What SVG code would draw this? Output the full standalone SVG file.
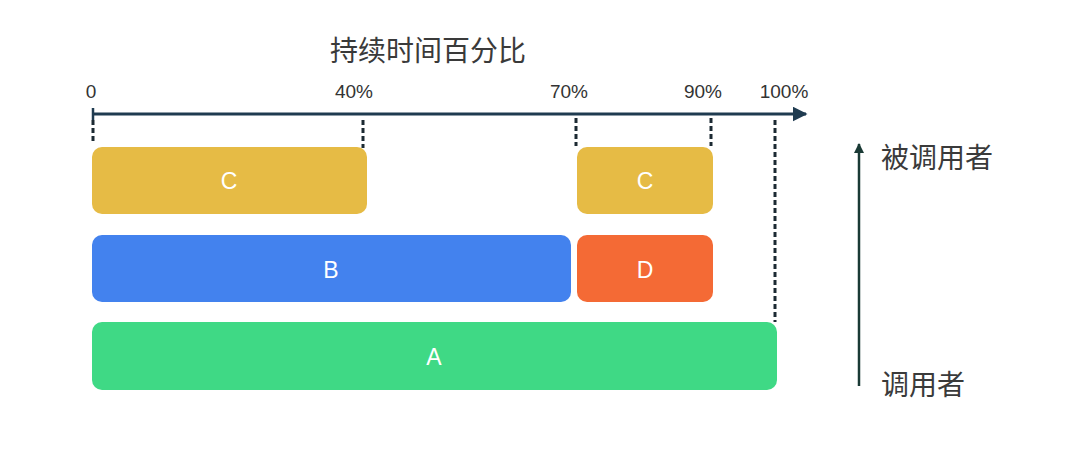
<svg xmlns="http://www.w3.org/2000/svg" width="1080" height="457" viewBox="0 0 1080 457">
<defs>
<style>
.lbl{font-family:"Liberation Sans","Noto Sans",sans-serif;font-size:23px;fill:#ffffff;text-anchor:middle}
.tick{font-family:"Liberation Sans","Noto Sans",sans-serif;font-size:19px;fill:#333333;text-anchor:middle}
.cjk{font-family:"Noto Sans CJK SC","Noto Sans",sans-serif;fill:#3a3a3a}
.dash{stroke:#1c2a33;stroke-width:3;stroke-dasharray:5,3;fill:none}
</style>
<marker id="ah" viewBox="0 0 10 10" refX="9" refY="5" markerWidth="5" markerHeight="5" orient="auto" markerUnits="strokeWidth"><path d="M0,0 L10,5 L0,10 z" fill="#1f3b50"/></marker>
<marker id="ah2" viewBox="0 0 10 10" refX="9" refY="5" markerWidth="4" markerHeight="4" orient="auto" markerUnits="strokeWidth"><path d="M0,0 L10,5 L0,10 z" fill="#1a3a35"/></marker>
</defs>
<rect width="1080" height="457" fill="#ffffff"/>
<text class="cjk" x="428" y="61" font-size="28" text-anchor="middle">持续时间百分比</text>
<g id="axis">
<line x1="93" y1="114" x2="806" y2="114" stroke="#1f3b50" stroke-width="3" marker-end="url(#ah)"/>
<line x1="93" y1="108" x2="93" y2="120" stroke="#1f3b50" stroke-width="2.5"/>
<text class="tick" x="91" y="98">0</text>
<text class="tick" x="354" y="98">40%</text>
<text class="tick" x="569" y="98">70%</text>
<text class="tick" x="703" y="98">90%</text>
<text class="tick" x="784" y="98">100%</text>
</g>
<g id="connectors">
<line class="dash" x1="93" y1="120" x2="93" y2="143"/>
<line class="dash" x1="363" y1="120" x2="363" y2="148"/>
<line class="dash" x1="576" y1="118" x2="576" y2="146"/>
<line class="dash" x1="711" y1="118" x2="711" y2="146"/>
<line class="dash" x1="775" y1="120" x2="775" y2="322"/>
<line x1="859" y1="386" x2="859" y2="144" stroke="#1a3a35" stroke-width="2.5" marker-end="url(#ah2)"/>
</g>
<g id="nodeC1"><rect x="92" y="147" width="275" height="67" rx="10" fill="#E6BB45"/><text class="lbl" x="229" y="189">C</text></g>
<g id="nodeC2"><rect x="577" y="147" width="136" height="67" rx="10" fill="#E6BB45"/><text class="lbl" x="645" y="189">C</text></g>
<g id="nodeB"><rect x="92" y="235" width="479" height="67" rx="10" fill="#4382EE"/><text class="lbl" x="331" y="278">B</text></g>
<g id="nodeD"><rect x="577" y="235" width="136" height="67" rx="10" fill="#F46A35"/><text class="lbl" x="645" y="278">D</text></g>
<g id="nodeA"><rect x="92" y="322" width="685" height="68" rx="10" fill="#3FD985"/><text class="lbl" x="434" y="365">A</text></g>
<g id="labels">
<text class="cjk" x="881" y="168" font-size="28">被调用者</text>
<text class="cjk" x="881" y="395" font-size="28">调用者</text>
</g>
</svg>
